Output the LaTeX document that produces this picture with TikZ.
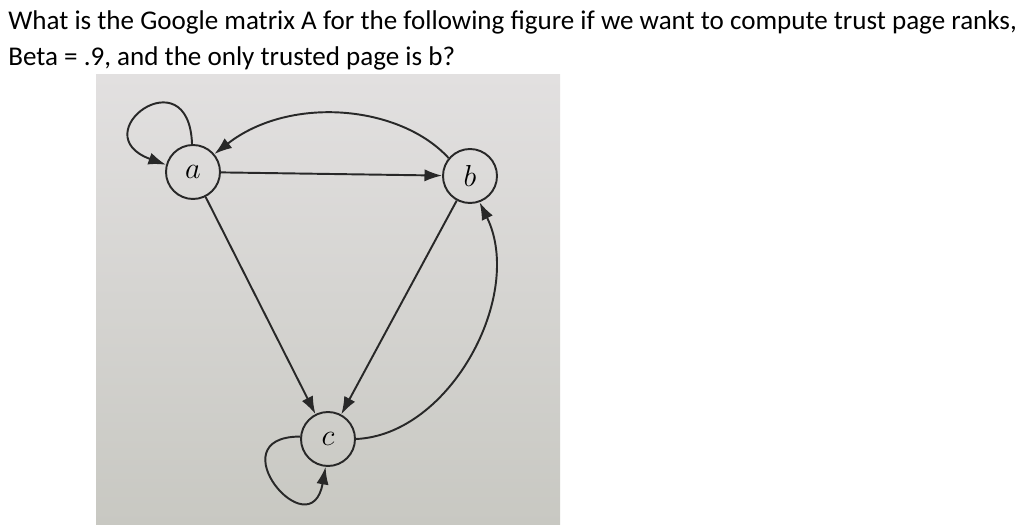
\documentclass[tikz,border=0pt]{standalone}
\usepackage{fontspec}
\setmainfont{Carlito}
\usepackage{tikz}
\usetikzlibrary{arrows.meta,positioning}

\definecolor{phototop}{RGB}{226,224,224}
\definecolor{photobot}{RGB}{200,200,194}
\definecolor{ink}{RGB}{40,40,40}

\begin{document}
\begin{tikzpicture}[x=0.02cm, y=0.02cm,
		page/.style={circle, draw=ink, line width=1.1pt, minimum size=1.08cm, inner sep=0pt, font=\fontsize{16}{16}\selectfont},
		link/.style={draw=ink, line width=1.1pt, -{Latex[length=10pt,width=7pt]}},
		question/.style={anchor=base west, inner sep=0pt, font=\fontsize{15.4}{18}\selectfont}]
		\useasboundingbox (0,0) rectangle (1023,530);
		\fill[white] (0,0) rectangle (1023,530);
		\shade[top color=phototop, bottom color=photobot] (96,5) rectangle (560,455);

		\node[question] (line1) at (8,500) {What is the Google matrix A for the following figure if we want to compute trust page ranks,};
		\node[question] (line2) at (8,464) {Beta = .9, and the only trusted page is b?};

		\node[page] (a) at (193,358) {$a$};
		\node[page] (b) at (470,354) {$b$};
		\node[page] (c) at (328,91) {$c$};

		\draw[link] (a) -- (b);
		\draw[link] (a) -- (c);
		\draw[link] (b) -- (c);
		\draw[link] (b.140) .. controls (400,425) and (290,435) .. (a.40);
		\draw[link] (c.0) .. controls (450,95) and (525,235) .. (b.290);
		% self loops
		\draw[link] (a.92) .. controls +(92:90) and +(160:90) .. (a.165);
		\draw[link] (c.175) .. controls +(180:85) and +(-100:85) .. (c.265);
	\end{tikzpicture}
\end{document}
